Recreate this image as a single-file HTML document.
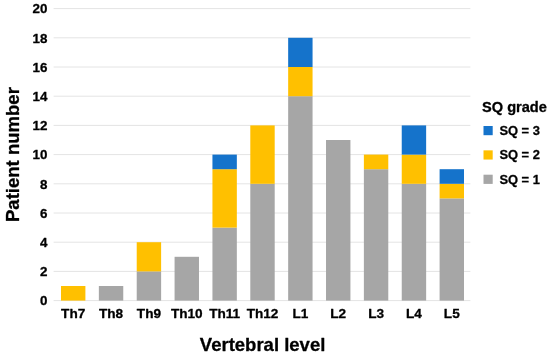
<!DOCTYPE html><html><head><meta charset="utf-8"><title>Chart</title><style>html,body{margin:0;padding:0;background:#fff}svg{display:block}text{font-family:"Liberation Sans",Arial,Helvetica,sans-serif;font-weight:bold;fill:#000;stroke:#000;stroke-width:0.3px;stroke-linejoin:round}</style></head><body>
<svg width="550" height="356" viewBox="0 0 550 356">
<rect width="550" height="356" fill="#fff"/>
<line x1="53.6" x2="470.4" y1="300.60" y2="300.60" stroke="#E4E4E4" stroke-width="1"/>
<line x1="53.6" x2="470.4" y1="271.40" y2="271.40" stroke="#E4E4E4" stroke-width="1"/>
<line x1="53.6" x2="470.4" y1="242.20" y2="242.20" stroke="#E4E4E4" stroke-width="1"/>
<line x1="53.6" x2="470.4" y1="213.00" y2="213.00" stroke="#E4E4E4" stroke-width="1"/>
<line x1="53.6" x2="470.4" y1="183.80" y2="183.80" stroke="#E4E4E4" stroke-width="1"/>
<line x1="53.6" x2="470.4" y1="154.60" y2="154.60" stroke="#E4E4E4" stroke-width="1"/>
<line x1="53.6" x2="470.4" y1="125.40" y2="125.40" stroke="#E4E4E4" stroke-width="1"/>
<line x1="53.6" x2="470.4" y1="96.20" y2="96.20" stroke="#E4E4E4" stroke-width="1"/>
<line x1="53.6" x2="470.4" y1="67.00" y2="67.00" stroke="#E4E4E4" stroke-width="1"/>
<line x1="53.6" x2="470.4" y1="37.80" y2="37.80" stroke="#E4E4E4" stroke-width="1"/>
<line x1="53.6" x2="470.4" y1="8.60" y2="8.60" stroke="#E4E4E4" stroke-width="1"/>
<rect x="61.00" y="286.00" width="24.4" height="14.60" fill="#FFC000"/>
<text x="73.20" y="318.2" font-size="13.6" text-anchor="middle">Th7</text>
<rect x="98.86" y="286.00" width="24.4" height="14.60" fill="#A6A6A6"/>
<text x="111.06" y="318.2" font-size="13.6" text-anchor="middle">Th8</text>
<rect x="136.72" y="271.40" width="24.4" height="29.20" fill="#A6A6A6"/>
<rect x="136.72" y="242.20" width="24.4" height="29.20" fill="#FFC000"/>
<text x="148.92" y="318.2" font-size="13.6" text-anchor="middle">Th9</text>
<rect x="174.58" y="256.80" width="24.4" height="43.80" fill="#A6A6A6"/>
<text x="186.78" y="318.2" font-size="13.6" text-anchor="middle">Th10</text>
<rect x="212.44" y="227.60" width="24.4" height="73.00" fill="#A6A6A6"/>
<rect x="212.44" y="169.20" width="24.4" height="58.40" fill="#FFC000"/>
<rect x="212.44" y="154.60" width="24.4" height="14.60" fill="#1573CB"/>
<text x="224.64" y="318.2" font-size="13.6" text-anchor="middle">Th11</text>
<rect x="250.30" y="183.80" width="24.4" height="116.80" fill="#A6A6A6"/>
<rect x="250.30" y="125.40" width="24.4" height="58.40" fill="#FFC000"/>
<text x="262.50" y="318.2" font-size="13.6" text-anchor="middle">Th12</text>
<rect x="288.16" y="96.20" width="24.4" height="204.40" fill="#A6A6A6"/>
<rect x="288.16" y="67.00" width="24.4" height="29.20" fill="#FFC000"/>
<rect x="288.16" y="37.80" width="24.4" height="29.20" fill="#1573CB"/>
<text x="300.36" y="318.2" font-size="13.6" text-anchor="middle">L1</text>
<rect x="326.02" y="140.00" width="24.4" height="160.60" fill="#A6A6A6"/>
<text x="338.22" y="318.2" font-size="13.6" text-anchor="middle">L2</text>
<rect x="363.88" y="169.20" width="24.4" height="131.40" fill="#A6A6A6"/>
<rect x="363.88" y="154.60" width="24.4" height="14.60" fill="#FFC000"/>
<text x="376.08" y="318.2" font-size="13.6" text-anchor="middle">L3</text>
<rect x="401.74" y="183.80" width="24.4" height="116.80" fill="#A6A6A6"/>
<rect x="401.74" y="154.60" width="24.4" height="29.20" fill="#FFC000"/>
<rect x="401.74" y="125.40" width="24.4" height="29.20" fill="#1573CB"/>
<text x="413.94" y="318.2" font-size="13.6" text-anchor="middle">L4</text>
<rect x="439.60" y="198.40" width="24.4" height="102.20" fill="#A6A6A6"/>
<rect x="439.60" y="183.80" width="24.4" height="14.60" fill="#FFC000"/>
<rect x="439.60" y="169.20" width="24.4" height="14.60" fill="#1573CB"/>
<text x="451.80" y="318.2" font-size="13.6" text-anchor="middle">L5</text>
<text x="47.4" y="305.40" font-size="13.4" text-anchor="end">0</text>
<text x="47.4" y="276.20" font-size="13.4" text-anchor="end">2</text>
<text x="47.4" y="247.00" font-size="13.4" text-anchor="end">4</text>
<text x="47.4" y="217.80" font-size="13.4" text-anchor="end">6</text>
<text x="47.4" y="188.60" font-size="13.4" text-anchor="end">8</text>
<text x="47.4" y="159.40" font-size="13.4" text-anchor="end">10</text>
<text x="47.4" y="130.20" font-size="13.4" text-anchor="end">12</text>
<text x="47.4" y="101.00" font-size="13.4" text-anchor="end">14</text>
<text x="47.4" y="71.80" font-size="13.4" text-anchor="end">16</text>
<text x="47.4" y="42.60" font-size="13.4" text-anchor="end">18</text>
<text x="47.4" y="13.40" font-size="13.4" text-anchor="end">20</text>
<text x="262.6" y="351.2" font-size="18.5" text-anchor="middle">Vertebral level</text>
<text transform="translate(18.6,154.6) rotate(-90)" font-size="18.55" text-anchor="middle">Patient number</text>
<text x="482" y="112" font-size="14.6">SQ grade</text>
<rect x="483.5" y="126.00" width="9.2" height="9.2" fill="#1573CB"/>
<text x="499.4" y="135.00" font-size="12.9">SQ = 3</text>
<rect x="483.5" y="150.35" width="9.2" height="9.2" fill="#FFC000"/>
<text x="499.4" y="159.35" font-size="12.9">SQ = 2</text>
<rect x="483.5" y="174.70" width="9.2" height="9.2" fill="#A6A6A6"/>
<text x="499.4" y="183.70" font-size="12.9">SQ = 1</text>
</svg></body></html>
